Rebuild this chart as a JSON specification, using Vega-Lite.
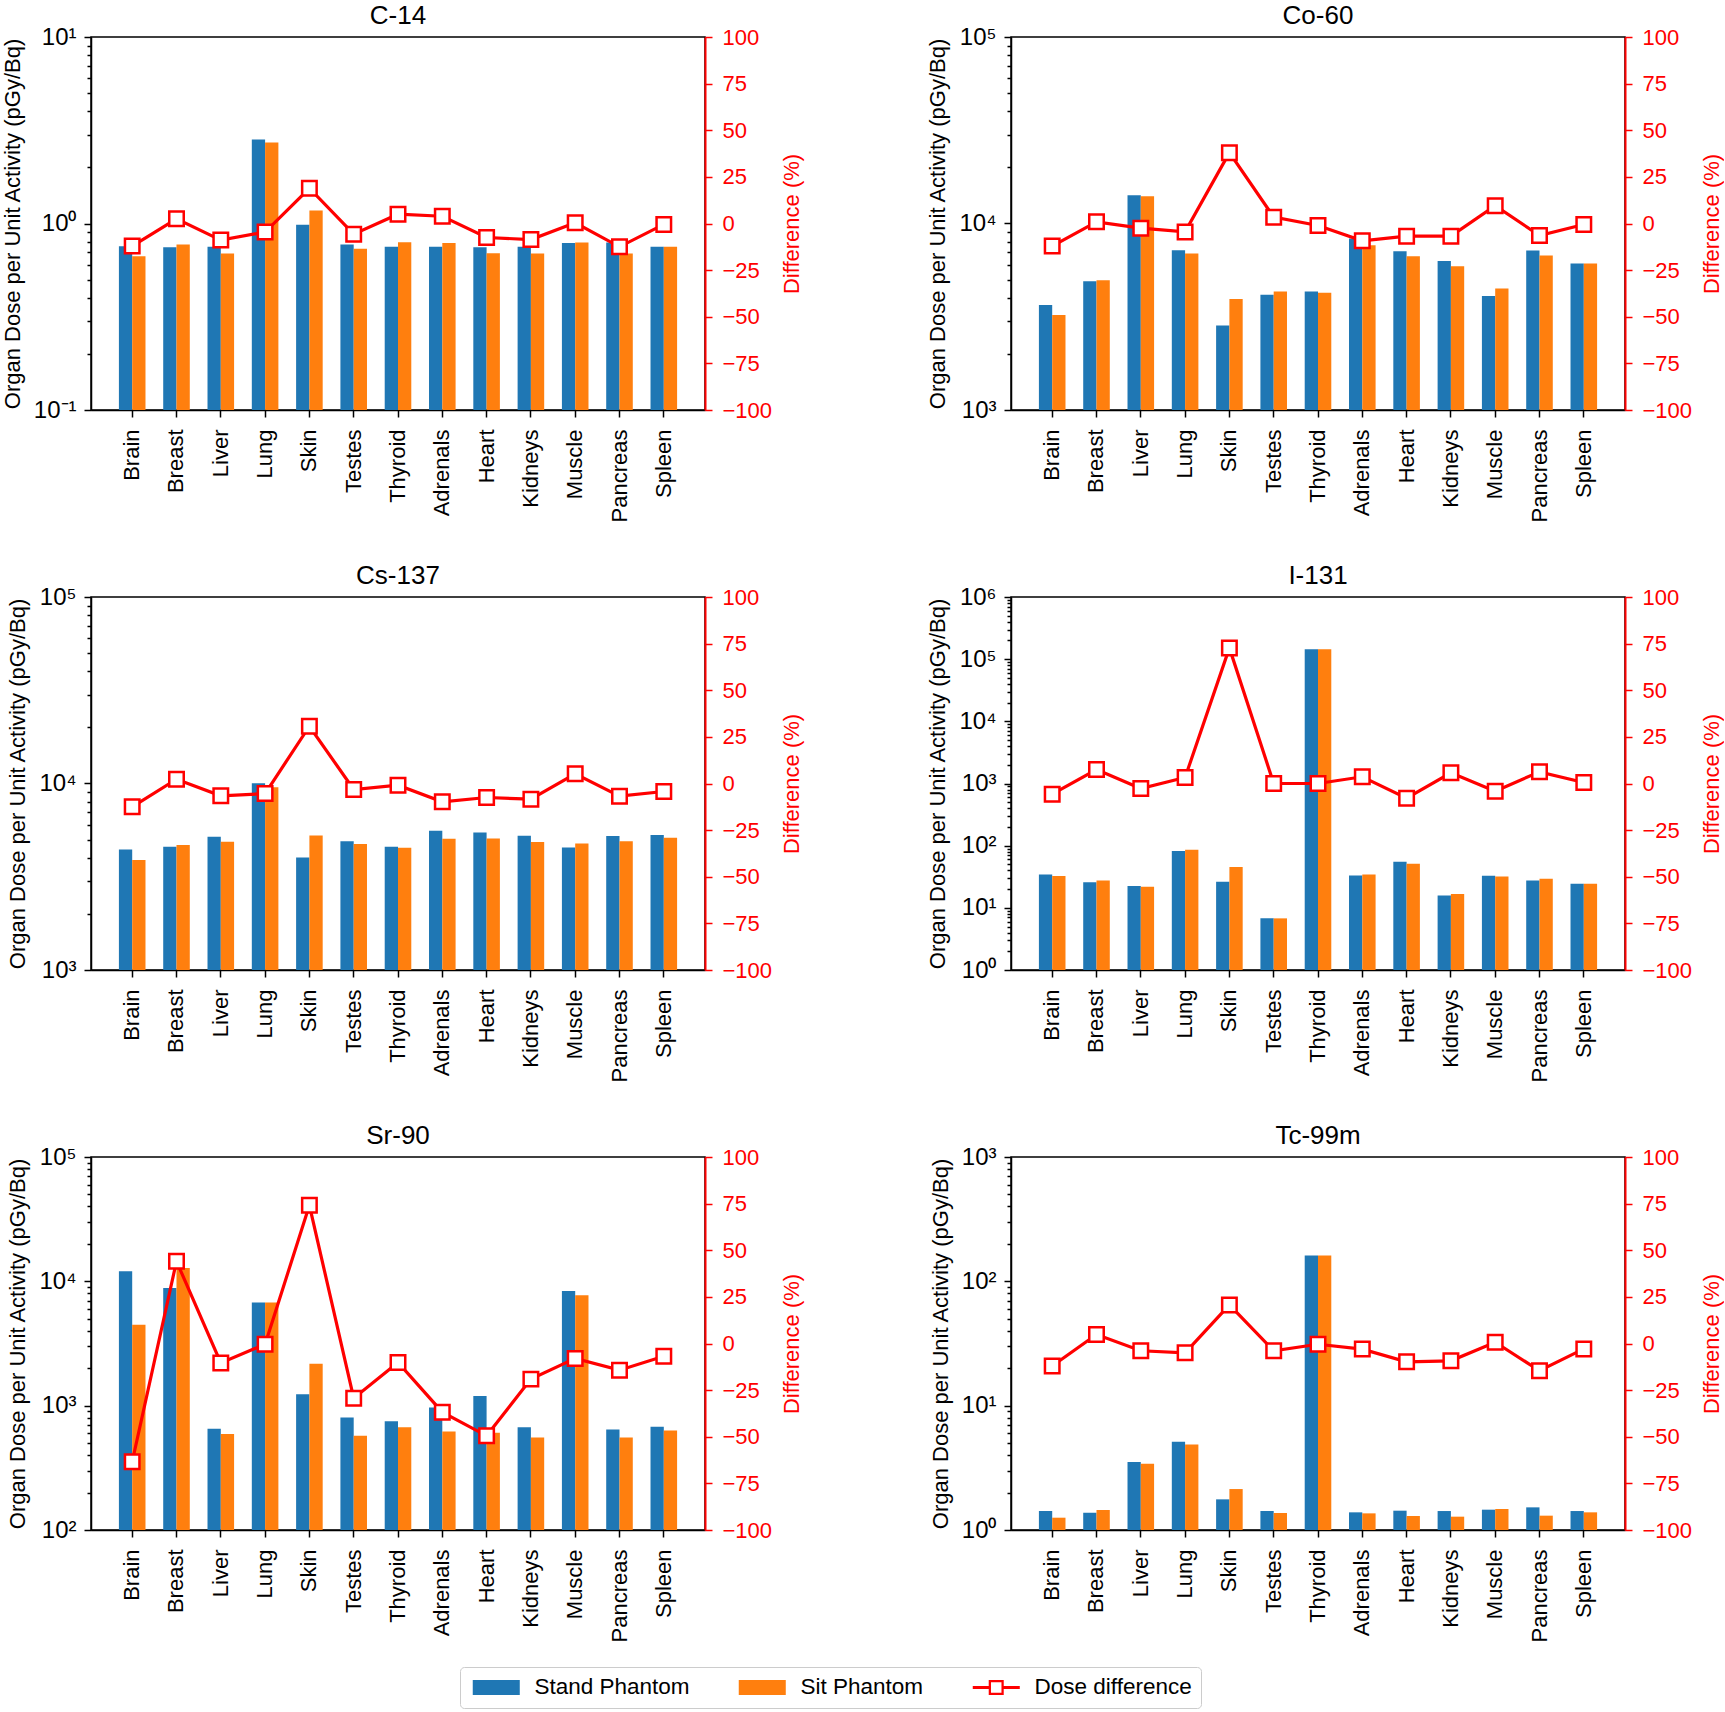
{
"$schema": "https://vega.github.io/schema/vega-lite/v6.json",
"padding": {"left": 0, "top": 2, "right": 0, "bottom": 0},
"datasets": {"d": [
{"i":"C-14","o":"Brain","s":"Stand Phantom","v":0.756},{"i":"C-14","o":"Brain","s":"Sit Phantom","v":0.668},{"i":"C-14","o":"Brain","s":"Dose difference","v":-12.1},
{"i":"C-14","o":"Breast","s":"Stand Phantom","v":0.747},{"i":"C-14","o":"Breast","s":"Sit Phantom","v":0.772},{"i":"C-14","o":"Breast","s":"Dose difference","v":2.5},
{"i":"C-14","o":"Liver","s":"Stand Phantom","v":0.750},{"i":"C-14","o":"Liver","s":"Sit Phantom","v":0.690},{"i":"C-14","o":"Liver","s":"Dose difference","v":-8.9},
{"i":"C-14","o":"Lung","s":"Stand Phantom","v":2.82},{"i":"C-14","o":"Lung","s":"Sit Phantom","v":2.72},{"i":"C-14","o":"Lung","s":"Dose difference","v":-4.6},
{"i":"C-14","o":"Skin","s":"Stand Phantom","v":0.984},{"i":"C-14","o":"Skin","s":"Sit Phantom","v":1.174},{"i":"C-14","o":"Skin","s":"Dose difference","v":18.9},
{"i":"C-14","o":"Testes","s":"Stand Phantom","v":0.772},{"i":"C-14","o":"Testes","s":"Sit Phantom","v":0.732},{"i":"C-14","o":"Testes","s":"Dose difference","v":-5.7},
{"i":"C-14","o":"Thyroid","s":"Stand Phantom","v":0.750},{"i":"C-14","o":"Thyroid","s":"Sit Phantom","v":0.794},{"i":"C-14","o":"Thyroid","s":"Dose difference","v":5.0},
{"i":"C-14","o":"Adrenals","s":"Stand Phantom","v":0.750},{"i":"C-14","o":"Adrenals","s":"Sit Phantom","v":0.787},{"i":"C-14","o":"Adrenals","s":"Dose difference","v":3.9},
{"i":"C-14","o":"Heart","s":"Stand Phantom","v":0.747},{"i":"C-14","o":"Heart","s":"Sit Phantom","v":0.693},{"i":"C-14","o":"Heart","s":"Dose difference","v":-7.5},
{"i":"C-14","o":"Kidneys","s":"Stand Phantom","v":0.750},{"i":"C-14","o":"Kidneys","s":"Sit Phantom","v":0.690},{"i":"C-14","o":"Kidneys","s":"Dose difference","v":-8.6},
{"i":"C-14","o":"Muscle","s":"Stand Phantom","v":0.785},{"i":"C-14","o":"Muscle","s":"Sit Phantom","v":0.791},{"i":"C-14","o":"Muscle","s":"Dose difference","v":0.4},
{"i":"C-14","o":"Pancreas","s":"Stand Phantom","v":0.791},{"i":"C-14","o":"Pancreas","s":"Sit Phantom","v":0.690},{"i":"C-14","o":"Pancreas","s":"Dose difference","v":-12.5},
{"i":"C-14","o":"Spleen","s":"Stand Phantom","v":0.750},{"i":"C-14","o":"Spleen","s":"Sit Phantom","v":0.750},{"i":"C-14","o":"Spleen","s":"Dose difference","v":-0.5},
{"i":"Co-60","o":"Brain","s":"Stand Phantom","v":3651},{"i":"Co-60","o":"Brain","s":"Sit Phantom","v":3228},{"i":"Co-60","o":"Brain","s":"Dose difference","v":-12.1},
{"i":"Co-60","o":"Breast","s":"Stand Phantom","v":4909},{"i":"Co-60","o":"Breast","s":"Sit Phantom","v":4970},{"i":"Co-60","o":"Breast","s":"Dose difference","v":0.9},
{"i":"Co-60","o":"Liver","s":"Stand Phantom","v":14190},{"i":"Co-60","o":"Liver","s":"Sit Phantom","v":14000},{"i":"Co-60","o":"Liver","s":"Dose difference","v":-2.5},
{"i":"Co-60","o":"Lung","s":"Stand Phantom","v":7197},{"i":"Co-60","o":"Lung","s":"Sit Phantom","v":6905},{"i":"Co-60","o":"Lung","s":"Dose difference","v":-4.5},
{"i":"Co-60","o":"Skin","s":"Stand Phantom","v":2841},{"i":"Co-60","o":"Skin","s":"Sit Phantom","v":3932},{"i":"Co-60","o":"Skin","s":"Dose difference","v":38.0},
{"i":"Co-60","o":"Testes","s":"Stand Phantom","v":4148},{"i":"Co-60","o":"Testes","s":"Sit Phantom","v":4322},{"i":"Co-60","o":"Testes","s":"Dose difference","v":3.4},
{"i":"Co-60","o":"Thyroid","s":"Stand Phantom","v":4322},{"i":"Co-60","o":"Thyroid","s":"Sit Phantom","v":4252},{"i":"Co-60","o":"Thyroid","s":"Dose difference","v":-1.1},
{"i":"Co-60","o":"Adrenals","s":"Stand Phantom","v":8313},{"i":"Co-60","o":"Adrenals","s":"Sit Phantom","v":7655},{"i":"Co-60","o":"Adrenals","s":"Dose difference","v":-9.3},
{"i":"Co-60","o":"Heart","s":"Stand Phantom","v":7108},{"i":"Co-60","o":"Heart","s":"Sit Phantom","v":6683},{"i":"Co-60","o":"Heart","s":"Dose difference","v":-6.8},
{"i":"Co-60","o":"Kidneys","s":"Stand Phantom","v":6286},{"i":"Co-60","o":"Kidneys","s":"Sit Phantom","v":5908},{"i":"Co-60","o":"Kidneys","s":"Dose difference","v":-6.8},
{"i":"Co-60","o":"Muscle","s":"Stand Phantom","v":4080},{"i":"Co-60","o":"Muscle","s":"Sit Phantom","v":4485},{"i":"Co-60","o":"Muscle","s":"Dose difference","v":9.5},
{"i":"Co-60","o":"Pancreas","s":"Stand Phantom","v":7165},{"i":"Co-60","o":"Pancreas","s":"Sit Phantom","v":6740},{"i":"Co-60","o":"Pancreas","s":"Dose difference","v":-6.4},
{"i":"Co-60","o":"Spleen","s":"Stand Phantom","v":6105},{"i":"Co-60","o":"Spleen","s":"Sit Phantom","v":6105},{"i":"Co-60","o":"Spleen","s":"Dose difference","v":-0.5},
{"i":"Cs-137","o":"Brain","s":"Stand Phantom","v":4430},{"i":"Cs-137","o":"Brain","s":"Sit Phantom","v":3884},{"i":"Cs-137","o":"Brain","s":"Dose difference","v":-12.5},
{"i":"Cs-137","o":"Breast","s":"Stand Phantom","v":4579},{"i":"Cs-137","o":"Breast","s":"Sit Phantom","v":4673},{"i":"Cs-137","o":"Breast","s":"Dose difference","v":2.3},
{"i":"Cs-137","o":"Liver","s":"Stand Phantom","v":5179},{"i":"Cs-137","o":"Liver","s":"Sit Phantom","v":4870},{"i":"Cs-137","o":"Liver","s":"Dose difference","v":-6.6},
{"i":"Cs-137","o":"Lung","s":"Stand Phantom","v":10040},{"i":"Cs-137","o":"Lung","s":"Sit Phantom","v":9556},{"i":"Cs-137","o":"Lung","s":"Dose difference","v":-5.4},
{"i":"Cs-137","o":"Skin","s":"Stand Phantom","v":4014},{"i":"Cs-137","o":"Skin","s":"Sit Phantom","v":5264},{"i":"Cs-137","o":"Skin","s":"Dose difference","v":30.7},
{"i":"Cs-137","o":"Testes","s":"Stand Phantom","v":4909},{"i":"Cs-137","o":"Testes","s":"Sit Phantom","v":4731},{"i":"Cs-137","o":"Testes","s":"Dose difference","v":-3.2},
{"i":"Cs-137","o":"Thyroid","s":"Stand Phantom","v":4579},{"i":"Cs-137","o":"Thyroid","s":"Sit Phantom","v":4523},{"i":"Cs-137","o":"Thyroid","s":"Dose difference","v":-0.9},
{"i":"Cs-137","o":"Adrenals","s":"Stand Phantom","v":5575},{"i":"Cs-137","o":"Adrenals","s":"Sit Phantom","v":5052},{"i":"Cs-137","o":"Adrenals","s":"Dose difference","v":-9.8},
{"i":"Cs-137","o":"Heart","s":"Stand Phantom","v":5465},{"i":"Cs-137","o":"Heart","s":"Sit Phantom","v":5073},{"i":"Cs-137","o":"Heart","s":"Dose difference","v":-7.5},
{"i":"Cs-137","o":"Kidneys","s":"Stand Phantom","v":5245},{"i":"Cs-137","o":"Kidneys","s":"Sit Phantom","v":4850},{"i":"Cs-137","o":"Kidneys","s":"Dose difference","v":-8.4},
{"i":"Cs-137","o":"Muscle","s":"Stand Phantom","v":4540},{"i":"Cs-137","o":"Muscle","s":"Sit Phantom","v":4770},{"i":"Cs-137","o":"Muscle","s":"Dose difference","v":5.2},
{"i":"Cs-137","o":"Pancreas","s":"Stand Phantom","v":5224},{"i":"Cs-137","o":"Pancreas","s":"Sit Phantom","v":4909},{"i":"Cs-137","o":"Pancreas","s":"Dose difference","v":-6.8},
{"i":"Cs-137","o":"Spleen","s":"Stand Phantom","v":5287},{"i":"Cs-137","o":"Spleen","s":"Sit Phantom","v":5115},{"i":"Cs-137","o":"Spleen","s":"Dose difference","v":-4.3},
{"i":"I-131","o":"Brain","s":"Stand Phantom","v":34.5},{"i":"I-131","o":"Brain","s":"Sit Phantom","v":32.4},{"i":"I-131","o":"Brain","s":"Dose difference","v":-5.7},
{"i":"I-131","o":"Breast","s":"Stand Phantom","v":25.9},{"i":"I-131","o":"Breast","s":"Sit Phantom","v":27.6},{"i":"I-131","o":"Breast","s":"Dose difference","v":7.5},
{"i":"I-131","o":"Liver","s":"Stand Phantom","v":22.4},{"i":"I-131","o":"Liver","s":"Sit Phantom","v":21.8},{"i":"I-131","o":"Liver","s":"Dose difference","v":-2.7},
{"i":"I-131","o":"Lung","s":"Stand Phantom","v":81.7},{"i":"I-131","o":"Lung","s":"Sit Phantom","v":85.9},{"i":"I-131","o":"Lung","s":"Dose difference","v":3.2},
{"i":"I-131","o":"Skin","s":"Stand Phantom","v":26.3},{"i":"I-131","o":"Skin","s":"Sit Phantom","v":45.2},{"i":"I-131","o":"Skin","s":"Dose difference","v":72.7},
{"i":"I-131","o":"Testes","s":"Stand Phantom","v":6.77},{"i":"I-131","o":"Testes","s":"Sit Phantom","v":6.77},{"i":"I-131","o":"Testes","s":"Dose difference","v":0.0},
{"i":"I-131","o":"Thyroid","s":"Stand Phantom","v":144200},{"i":"I-131","o":"Thyroid","s":"Sit Phantom","v":144200},{"i":"I-131","o":"Thyroid","s":"Dose difference","v":0.0},
{"i":"I-131","o":"Adrenals","s":"Stand Phantom","v":33.2},{"i":"I-131","o":"Adrenals","s":"Sit Phantom","v":34.5},{"i":"I-131","o":"Adrenals","s":"Dose difference","v":3.6},
{"i":"I-131","o":"Heart","s":"Stand Phantom","v":55.1},{"i":"I-131","o":"Heart","s":"Sit Phantom","v":51.2},{"i":"I-131","o":"Heart","s":"Dose difference","v":-7.9},
{"i":"I-131","o":"Kidneys","s":"Stand Phantom","v":15.85},{"i":"I-131","o":"Kidneys","s":"Sit Phantom","v":16.65},{"i":"I-131","o":"Kidneys","s":"Dose difference","v":5.7},
{"i":"I-131","o":"Muscle","s":"Stand Phantom","v":32.8},{"i":"I-131","o":"Muscle","s":"Sit Phantom","v":32.0},{"i":"I-131","o":"Muscle","s":"Dose difference","v":-4.1},
{"i":"I-131","o":"Pancreas","s":"Stand Phantom","v":27.6},{"i":"I-131","o":"Pancreas","s":"Sit Phantom","v":29.4},{"i":"I-131","o":"Pancreas","s":"Dose difference","v":6.25},
{"i":"I-131","o":"Spleen","s":"Stand Phantom","v":24.4},{"i":"I-131","o":"Spleen","s":"Sit Phantom","v":24.4},{"i":"I-131","o":"Spleen","s":"Dose difference","v":0.5},
{"i":"Sr-90","o":"Brain","s":"Stand Phantom","v":12060},{"i":"Sr-90","o":"Brain","s":"Sit Phantom","v":4467},{"i":"Sr-90","o":"Brain","s":"Dose difference","v":-63.4},
{"i":"Sr-90","o":"Breast","s":"Stand Phantom","v":8857},{"i":"Sr-90","o":"Breast","s":"Sit Phantom","v":12830},{"i":"Sr-90","o":"Breast","s":"Dose difference","v":44.1},
{"i":"Sr-90","o":"Liver","s":"Stand Phantom","v":652},{"i":"Sr-90","o":"Liver","s":"Sit Phantom","v":591},{"i":"Sr-90","o":"Liver","s":"Dose difference","v":-10.4},
{"i":"Sr-90","o":"Lung","s":"Stand Phantom","v":6753},{"i":"Sr-90","o":"Lung","s":"Sit Phantom","v":6753},{"i":"Sr-90","o":"Lung","s":"Dose difference","v":-0.4},
{"i":"Sr-90","o":"Skin","s":"Stand Phantom","v":1238},{"i":"Sr-90","o":"Skin","s":"Sit Phantom","v":2171},{"i":"Sr-90","o":"Skin","s":"Dose difference","v":74.1},
{"i":"Sr-90","o":"Testes","s":"Stand Phantom","v":804},{"i":"Sr-90","o":"Testes","s":"Sit Phantom","v":573},{"i":"Sr-90","o":"Testes","s":"Dose difference","v":-29.3},
{"i":"Sr-90","o":"Thyroid","s":"Stand Phantom","v":751},{"i":"Sr-90","o":"Thyroid","s":"Sit Phantom","v":672},{"i":"Sr-90","o":"Thyroid","s":"Dose difference","v":-10.2},
{"i":"Sr-90","o":"Adrenals","s":"Stand Phantom","v":967},{"i":"Sr-90","o":"Adrenals","s":"Sit Phantom","v":621},{"i":"Sr-90","o":"Adrenals","s":"Dose difference","v":-36.8},
{"i":"Sr-90","o":"Heart","s":"Stand Phantom","v":1194},{"i":"Sr-90","o":"Heart","s":"Sit Phantom","v":606},{"i":"Sr-90","o":"Heart","s":"Dose difference","v":-49.5},
{"i":"Sr-90","o":"Kidneys","s":"Stand Phantom","v":672},{"i":"Sr-90","o":"Kidneys","s":"Sit Phantom","v":555},{"i":"Sr-90","o":"Kidneys","s":"Dose difference","v":-19.1},
{"i":"Sr-90","o":"Muscle","s":"Stand Phantom","v":8378},{"i":"Sr-90","o":"Muscle","s":"Sit Phantom","v":7730},{"i":"Sr-90","o":"Muscle","s":"Dose difference","v":-8.0},
{"i":"Sr-90","o":"Pancreas","s":"Stand Phantom","v":644},{"i":"Sr-90","o":"Pancreas","s":"Sit Phantom","v":555},{"i":"Sr-90","o":"Pancreas","s":"Dose difference","v":-14.3},
{"i":"Sr-90","o":"Spleen","s":"Stand Phantom","v":677},{"i":"Sr-90","o":"Spleen","s":"Sit Phantom","v":632},{"i":"Sr-90","o":"Spleen","s":"Dose difference","v":-6.8},
{"i":"Tc-99m","o":"Brain","s":"Stand Phantom","v":1.421},{"i":"Tc-99m","o":"Brain","s":"Sit Phantom","v":1.256},{"i":"Tc-99m","o":"Brain","s":"Dose difference","v":-12.1},
{"i":"Tc-99m","o":"Breast","s":"Stand Phantom","v":1.378},{"i":"Tc-99m","o":"Breast","s":"Sit Phantom","v":1.448},{"i":"Tc-99m","o":"Breast","s":"Dose difference","v":4.8},
{"i":"Tc-99m","o":"Liver","s":"Stand Phantom","v":3.52},{"i":"Tc-99m","o":"Liver","s":"Sit Phantom","v":3.41},{"i":"Tc-99m","o":"Liver","s":"Dose difference","v":-3.9},
{"i":"Tc-99m","o":"Lung","s":"Stand Phantom","v":5.13},{"i":"Tc-99m","o":"Lung","s":"Sit Phantom","v":4.88},{"i":"Tc-99m","o":"Lung","s":"Dose difference","v":-5.0},
{"i":"Tc-99m","o":"Skin","s":"Stand Phantom","v":1.764},{"i":"Tc-99m","o":"Skin","s":"Sit Phantom","v":2.135},{"i":"Tc-99m","o":"Skin","s":"Dose difference","v":20.7},
{"i":"Tc-99m","o":"Testes","s":"Stand Phantom","v":1.421},{"i":"Tc-99m","o":"Testes","s":"Sit Phantom","v":1.370},{"i":"Tc-99m","o":"Testes","s":"Dose difference","v":-3.9},
{"i":"Tc-99m","o":"Thyroid","s":"Stand Phantom","v":161.1},{"i":"Tc-99m","o":"Thyroid","s":"Sit Phantom","v":161.1},{"i":"Tc-99m","o":"Thyroid","s":"Dose difference","v":-0.4},
{"i":"Tc-99m","o":"Adrenals","s":"Stand Phantom","v":1.387},{"i":"Tc-99m","o":"Adrenals","s":"Sit Phantom","v":1.361},{"i":"Tc-99m","o":"Adrenals","s":"Dose difference","v":-3.0},
{"i":"Tc-99m","o":"Heart","s":"Stand Phantom","v":1.43},{"i":"Tc-99m","o":"Heart","s":"Sit Phantom","v":1.296},{"i":"Tc-99m","o":"Heart","s":"Dose difference","v":-9.8},
{"i":"Tc-99m","o":"Kidneys","s":"Stand Phantom","v":1.421},{"i":"Tc-99m","o":"Kidneys","s":"Sit Phantom","v":1.280},{"i":"Tc-99m","o":"Kidneys","s":"Dose difference","v":-9.3},
{"i":"Tc-99m","o":"Muscle","s":"Stand Phantom","v":1.457},{"i":"Tc-99m","o":"Muscle","s":"Sit Phantom","v":1.475},{"i":"Tc-99m","o":"Muscle","s":"Dose difference","v":0.7},
{"i":"Tc-99m","o":"Pancreas","s":"Stand Phantom","v":1.521},{"i":"Tc-99m","o":"Pancreas","s":"Sit Phantom","v":1.304},{"i":"Tc-99m","o":"Pancreas","s":"Dose difference","v":-14.6},
{"i":"Tc-99m","o":"Spleen","s":"Stand Phantom","v":1.421},{"i":"Tc-99m","o":"Spleen","s":"Sit Phantom","v":1.387},{"i":"Tc-99m","o":"Spleen","s":"Dose difference","v":-2.9}
]},
"data": {"name": "d"},
"columns": 2,
"spacing": {"row": 39, "column": 122},
"resolve": {"scale": {"color": "shared"}, "legend": {"color": "shared"}},
"concat": [
{"width": 614, "height": 373, "title": "C-14",
 "transform": [{"filter": "datum.i == 'C-14'"}],
 "encoding": {"x": {"field": "o", "type": "nominal", "scale": {"domain": ["Brain","Breast","Liver","Lung","Skin","Testes","Thyroid","Adrenals","Heart","Kidneys","Muscle","Pancreas","Spleen"], "paddingInner": 0.4, "paddingOuter": 0.63}, "axis": {"title": null, "labelAngle": -90, "tickSize": 7, "labelPadding": 12}}},
 "layer": [
  {"transform": [{"filter": "datum.s != 'Dose difference'"}], "mark": {"type": "bar", "clip": true},
   "encoding": {"xOffset": {"field": "s", "type": "nominal", "scale": {"domain": ["Stand Phantom","Sit Phantom"]}},
    "y": {"field": "v", "type": "quantitative", "stack": null, "scale": {"type": "log", "domain": [0.1, 10], "nice": false},
     "axis": {"orient": "left", "title": "Organ Dose per Unit Activity (pGy/Bq)", "values": [0.1,0.2,0.3,0.4,0.5,0.6,0.7,0.8,0.9,1,2,3,4,5,6,7,8,9,10], "labelOverlap": false, "labelFontSize": 24, "labelPadding": 8, "titlePadding": 9,
      "labelExpr": "abs(log(datum.value)/LN10-round(log(datum.value)/LN10))<0.001 ? '10'+(round(log(datum.value)/LN10)<0?'⁻':'')+['⁰','¹','²','³','⁴','⁵','⁶'][abs(round(log(datum.value)/LN10))] : ''",
      "tickSize": {"condition": {"test": "abs(log(datum.value)/LN10-round(log(datum.value)/LN10))<0.001", "value": 7}, "value": 4}}},
    "color": {"field": "s", "type": "nominal", "scale": {"domain": ["Stand Phantom","Sit Phantom","Dose difference"], "range": ["#1f77b4","#ff7f0e","#ff0000"]},
     "legend": {"encode": {"symbols": {"update": {"shape": {"signal": "datum.value === 'Dose difference' ? 'M-1,-0.2H1.13V0.2H-1Z M3.13,-0.2H5.27V0.2H3.13Z M1.13,-1H3.13V1H1.13Z M1.43,-0.7V0.7H2.83V-0.7Z' : 'M-1,-1H5.27V1H-1Z'"}, "strokeWidth": {"value": 0}, "opacity": {"value": 1}}}}}}}},
  {"transform": [{"filter": "datum.s == 'Dose difference'"}],
   "encoding": {"y": {"field": "v", "type": "quantitative", "scale": {"domain": [-100, 100], "nice": false},
     "axis": {"orient": "right", "title": "Difference (%)", "values": [-100,-75,-50,-25,0,25,50,75,100], "labelColor": "#ff0000", "tickColor": "#ff0000", "domainColor": "#ff0000", "titleColor": "#ff0000", "titleAngle": 270, "titleBaseline": "top", "tickSize": 7, "labelPadding": 10, "domainWidth": 2}}},
   "layer": [
    {"mark": {"type": "line", "strokeWidth": 3.2}, "encoding": {"color": {"datum": "Dose difference", "type": "nominal", "scale": {"domain": ["Stand Phantom","Sit Phantom","Dose difference"], "range": ["#1f77b4","#ff7f0e","#ff0000"]}}}},
    {"mark": {"type": "point", "shape": "square", "filled": true, "fill": "#ffffff", "stroke": "#ff0000", "strokeWidth": 2.5, "size": 210, "opacity": 1}, "encoding": {}}
   ]}
 ],
 "resolve": {"scale": {"y": "independent"}}},
{"width": 614, "height": 373, "title": "Co-60",
 "transform": [{"filter": "datum.i == 'Co-60'"}],
 "encoding": {"x": {"field": "o", "type": "nominal", "scale": {"domain": ["Brain","Breast","Liver","Lung","Skin","Testes","Thyroid","Adrenals","Heart","Kidneys","Muscle","Pancreas","Spleen"], "paddingInner": 0.4, "paddingOuter": 0.63}, "axis": {"title": null, "labelAngle": -90, "tickSize": 7, "labelPadding": 12}}},
 "layer": [
  {"transform": [{"filter": "datum.s != 'Dose difference'"}], "mark": {"type": "bar", "clip": true},
   "encoding": {"xOffset": {"field": "s", "type": "nominal", "scale": {"domain": ["Stand Phantom","Sit Phantom"]}},
    "y": {"field": "v", "type": "quantitative", "stack": null, "scale": {"type": "log", "domain": [1000, 100000], "nice": false},
     "axis": {"orient": "left", "title": "Organ Dose per Unit Activity (pGy/Bq)", "values": [1000,2000,3000,4000,5000,6000,7000,8000,9000,10000,20000,30000,40000,50000,60000,70000,80000,90000,100000], "labelOverlap": false, "labelFontSize": 24, "labelPadding": 8, "titlePadding": 9,
      "labelExpr": "abs(log(datum.value)/LN10-round(log(datum.value)/LN10))<0.001 ? '10'+(round(log(datum.value)/LN10)<0?'⁻':'')+['⁰','¹','²','³','⁴','⁵','⁶'][abs(round(log(datum.value)/LN10))] : ''",
      "tickSize": {"condition": {"test": "abs(log(datum.value)/LN10-round(log(datum.value)/LN10))<0.001", "value": 7}, "value": 4}}},
    "color": {"field": "s", "type": "nominal", "scale": {"domain": ["Stand Phantom","Sit Phantom","Dose difference"], "range": ["#1f77b4","#ff7f0e","#ff0000"]}}}},
  {"transform": [{"filter": "datum.s == 'Dose difference'"}],
   "encoding": {"y": {"field": "v", "type": "quantitative", "scale": {"domain": [-100, 100], "nice": false},
     "axis": {"orient": "right", "title": "Difference (%)", "values": [-100,-75,-50,-25,0,25,50,75,100], "labelColor": "#ff0000", "tickColor": "#ff0000", "domainColor": "#ff0000", "titleColor": "#ff0000", "titleAngle": 270, "titleBaseline": "top", "tickSize": 7, "labelPadding": 10, "domainWidth": 2}}},
   "layer": [
    {"mark": {"type": "line", "strokeWidth": 3.2}, "encoding": {"color": {"datum": "Dose difference", "type": "nominal", "scale": {"domain": ["Stand Phantom","Sit Phantom","Dose difference"], "range": ["#1f77b4","#ff7f0e","#ff0000"]}}}},
    {"mark": {"type": "point", "shape": "square", "filled": true, "fill": "#ffffff", "stroke": "#ff0000", "strokeWidth": 2.5, "size": 210, "opacity": 1}, "encoding": {}}
   ]}
 ],
 "resolve": {"scale": {"y": "independent"}}},
{"width": 614, "height": 373, "title": "Cs-137",
 "transform": [{"filter": "datum.i == 'Cs-137'"}],
 "encoding": {"x": {"field": "o", "type": "nominal", "scale": {"domain": ["Brain","Breast","Liver","Lung","Skin","Testes","Thyroid","Adrenals","Heart","Kidneys","Muscle","Pancreas","Spleen"], "paddingInner": 0.4, "paddingOuter": 0.63}, "axis": {"title": null, "labelAngle": -90, "tickSize": 7, "labelPadding": 12}}},
 "layer": [
  {"transform": [{"filter": "datum.s != 'Dose difference'"}], "mark": {"type": "bar", "clip": true},
   "encoding": {"xOffset": {"field": "s", "type": "nominal", "scale": {"domain": ["Stand Phantom","Sit Phantom"]}},
    "y": {"field": "v", "type": "quantitative", "stack": null, "scale": {"type": "log", "domain": [1000, 100000], "nice": false},
     "axis": {"orient": "left", "title": "Organ Dose per Unit Activity (pGy/Bq)", "values": [1000,2000,3000,4000,5000,6000,7000,8000,9000,10000,20000,30000,40000,50000,60000,70000,80000,90000,100000], "labelOverlap": false, "labelFontSize": 24, "labelPadding": 8, "titlePadding": 9,
      "labelExpr": "abs(log(datum.value)/LN10-round(log(datum.value)/LN10))<0.001 ? '10'+(round(log(datum.value)/LN10)<0?'⁻':'')+['⁰','¹','²','³','⁴','⁵','⁶'][abs(round(log(datum.value)/LN10))] : ''",
      "tickSize": {"condition": {"test": "abs(log(datum.value)/LN10-round(log(datum.value)/LN10))<0.001", "value": 7}, "value": 4}}},
    "color": {"field": "s", "type": "nominal", "scale": {"domain": ["Stand Phantom","Sit Phantom","Dose difference"], "range": ["#1f77b4","#ff7f0e","#ff0000"]}}}},
  {"transform": [{"filter": "datum.s == 'Dose difference'"}],
   "encoding": {"y": {"field": "v", "type": "quantitative", "scale": {"domain": [-100, 100], "nice": false},
     "axis": {"orient": "right", "title": "Difference (%)", "values": [-100,-75,-50,-25,0,25,50,75,100], "labelColor": "#ff0000", "tickColor": "#ff0000", "domainColor": "#ff0000", "titleColor": "#ff0000", "titleAngle": 270, "titleBaseline": "top", "tickSize": 7, "labelPadding": 10, "domainWidth": 2}}},
   "layer": [
    {"mark": {"type": "line", "strokeWidth": 3.2}, "encoding": {"color": {"datum": "Dose difference", "type": "nominal", "scale": {"domain": ["Stand Phantom","Sit Phantom","Dose difference"], "range": ["#1f77b4","#ff7f0e","#ff0000"]}}}},
    {"mark": {"type": "point", "shape": "square", "filled": true, "fill": "#ffffff", "stroke": "#ff0000", "strokeWidth": 2.5, "size": 210, "opacity": 1}, "encoding": {}}
   ]}
 ],
 "resolve": {"scale": {"y": "independent"}}},
{"width": 614, "height": 373, "title": "I-131",
 "transform": [{"filter": "datum.i == 'I-131'"}],
 "encoding": {"x": {"field": "o", "type": "nominal", "scale": {"domain": ["Brain","Breast","Liver","Lung","Skin","Testes","Thyroid","Adrenals","Heart","Kidneys","Muscle","Pancreas","Spleen"], "paddingInner": 0.4, "paddingOuter": 0.63}, "axis": {"title": null, "labelAngle": -90, "tickSize": 7, "labelPadding": 12}}},
 "layer": [
  {"transform": [{"filter": "datum.s != 'Dose difference'"}], "mark": {"type": "bar", "clip": true},
   "encoding": {"xOffset": {"field": "s", "type": "nominal", "scale": {"domain": ["Stand Phantom","Sit Phantom"]}},
    "y": {"field": "v", "type": "quantitative", "stack": null, "scale": {"type": "log", "domain": [1, 1000000], "nice": false},
     "axis": {"orient": "left", "title": "Organ Dose per Unit Activity (pGy/Bq)", "values": [1,2,3,4,5,6,7,8,9,10,20,30,40,50,60,70,80,90,100,200,300,400,500,600,700,800,900,1000,2000,3000,4000,5000,6000,7000,8000,9000,10000,20000,30000,40000,50000,60000,70000,80000,90000,100000,200000,300000,400000,500000,600000,700000,800000,900000,1000000], "labelOverlap": false, "labelFontSize": 24, "labelPadding": 8, "titlePadding": 9,
      "labelExpr": "abs(log(datum.value)/LN10-round(log(datum.value)/LN10))<0.001 ? '10'+(round(log(datum.value)/LN10)<0?'⁻':'')+['⁰','¹','²','³','⁴','⁵','⁶'][abs(round(log(datum.value)/LN10))] : ''",
      "tickSize": {"condition": {"test": "abs(log(datum.value)/LN10-round(log(datum.value)/LN10))<0.001", "value": 7}, "value": 4}}},
    "color": {"field": "s", "type": "nominal", "scale": {"domain": ["Stand Phantom","Sit Phantom","Dose difference"], "range": ["#1f77b4","#ff7f0e","#ff0000"]}}}},
  {"transform": [{"filter": "datum.s == 'Dose difference'"}],
   "encoding": {"y": {"field": "v", "type": "quantitative", "scale": {"domain": [-100, 100], "nice": false},
     "axis": {"orient": "right", "title": "Difference (%)", "values": [-100,-75,-50,-25,0,25,50,75,100], "labelColor": "#ff0000", "tickColor": "#ff0000", "domainColor": "#ff0000", "titleColor": "#ff0000", "titleAngle": 270, "titleBaseline": "top", "tickSize": 7, "labelPadding": 10, "domainWidth": 2}}},
   "layer": [
    {"mark": {"type": "line", "strokeWidth": 3.2}, "encoding": {"color": {"datum": "Dose difference", "type": "nominal", "scale": {"domain": ["Stand Phantom","Sit Phantom","Dose difference"], "range": ["#1f77b4","#ff7f0e","#ff0000"]}}}},
    {"mark": {"type": "point", "shape": "square", "filled": true, "fill": "#ffffff", "stroke": "#ff0000", "strokeWidth": 2.5, "size": 210, "opacity": 1}, "encoding": {}}
   ]}
 ],
 "resolve": {"scale": {"y": "independent"}}},
{"width": 614, "height": 373, "title": "Sr-90",
 "transform": [{"filter": "datum.i == 'Sr-90'"}],
 "encoding": {"x": {"field": "o", "type": "nominal", "scale": {"domain": ["Brain","Breast","Liver","Lung","Skin","Testes","Thyroid","Adrenals","Heart","Kidneys","Muscle","Pancreas","Spleen"], "paddingInner": 0.4, "paddingOuter": 0.63}, "axis": {"title": null, "labelAngle": -90, "tickSize": 7, "labelPadding": 12}}},
 "layer": [
  {"transform": [{"filter": "datum.s != 'Dose difference'"}], "mark": {"type": "bar", "clip": true},
   "encoding": {"xOffset": {"field": "s", "type": "nominal", "scale": {"domain": ["Stand Phantom","Sit Phantom"]}},
    "y": {"field": "v", "type": "quantitative", "stack": null, "scale": {"type": "log", "domain": [100, 100000], "nice": false},
     "axis": {"orient": "left", "title": "Organ Dose per Unit Activity (pGy/Bq)", "values": [100,200,300,400,500,600,700,800,900,1000,2000,3000,4000,5000,6000,7000,8000,9000,10000,20000,30000,40000,50000,60000,70000,80000,90000,100000], "labelOverlap": false, "labelFontSize": 24, "labelPadding": 8, "titlePadding": 9,
      "labelExpr": "abs(log(datum.value)/LN10-round(log(datum.value)/LN10))<0.001 ? '10'+(round(log(datum.value)/LN10)<0?'⁻':'')+['⁰','¹','²','³','⁴','⁵','⁶'][abs(round(log(datum.value)/LN10))] : ''",
      "tickSize": {"condition": {"test": "abs(log(datum.value)/LN10-round(log(datum.value)/LN10))<0.001", "value": 7}, "value": 4}}},
    "color": {"field": "s", "type": "nominal", "scale": {"domain": ["Stand Phantom","Sit Phantom","Dose difference"], "range": ["#1f77b4","#ff7f0e","#ff0000"]}}}},
  {"transform": [{"filter": "datum.s == 'Dose difference'"}],
   "encoding": {"y": {"field": "v", "type": "quantitative", "scale": {"domain": [-100, 100], "nice": false},
     "axis": {"orient": "right", "title": "Difference (%)", "values": [-100,-75,-50,-25,0,25,50,75,100], "labelColor": "#ff0000", "tickColor": "#ff0000", "domainColor": "#ff0000", "titleColor": "#ff0000", "titleAngle": 270, "titleBaseline": "top", "tickSize": 7, "labelPadding": 10, "domainWidth": 2}}},
   "layer": [
    {"mark": {"type": "line", "strokeWidth": 3.2}, "encoding": {"color": {"datum": "Dose difference", "type": "nominal", "scale": {"domain": ["Stand Phantom","Sit Phantom","Dose difference"], "range": ["#1f77b4","#ff7f0e","#ff0000"]}}}},
    {"mark": {"type": "point", "shape": "square", "filled": true, "fill": "#ffffff", "stroke": "#ff0000", "strokeWidth": 2.5, "size": 210, "opacity": 1}, "encoding": {}}
   ]}
 ],
 "resolve": {"scale": {"y": "independent"}}},
{"width": 614, "height": 373, "title": "Tc-99m",
 "transform": [{"filter": "datum.i == 'Tc-99m'"}],
 "encoding": {"x": {"field": "o", "type": "nominal", "scale": {"domain": ["Brain","Breast","Liver","Lung","Skin","Testes","Thyroid","Adrenals","Heart","Kidneys","Muscle","Pancreas","Spleen"], "paddingInner": 0.4, "paddingOuter": 0.63}, "axis": {"title": null, "labelAngle": -90, "tickSize": 7, "labelPadding": 12}}},
 "layer": [
  {"transform": [{"filter": "datum.s != 'Dose difference'"}], "mark": {"type": "bar", "clip": true},
   "encoding": {"xOffset": {"field": "s", "type": "nominal", "scale": {"domain": ["Stand Phantom","Sit Phantom"]}},
    "y": {"field": "v", "type": "quantitative", "stack": null, "scale": {"type": "log", "domain": [1, 1000], "nice": false},
     "axis": {"orient": "left", "title": "Organ Dose per Unit Activity (pGy/Bq)", "values": [1,2,3,4,5,6,7,8,9,10,20,30,40,50,60,70,80,90,100,200,300,400,500,600,700,800,900,1000], "labelOverlap": false, "labelFontSize": 24, "labelPadding": 8, "titlePadding": 9,
      "labelExpr": "abs(log(datum.value)/LN10-round(log(datum.value)/LN10))<0.001 ? '10'+(round(log(datum.value)/LN10)<0?'⁻':'')+['⁰','¹','²','³','⁴','⁵','⁶'][abs(round(log(datum.value)/LN10))] : ''",
      "tickSize": {"condition": {"test": "abs(log(datum.value)/LN10-round(log(datum.value)/LN10))<0.001", "value": 7}, "value": 4}}},
    "color": {"field": "s", "type": "nominal", "scale": {"domain": ["Stand Phantom","Sit Phantom","Dose difference"], "range": ["#1f77b4","#ff7f0e","#ff0000"]}}}},
  {"transform": [{"filter": "datum.s == 'Dose difference'"}],
   "encoding": {"y": {"field": "v", "type": "quantitative", "scale": {"domain": [-100, 100], "nice": false},
     "axis": {"orient": "right", "title": "Difference (%)", "values": [-100,-75,-50,-25,0,25,50,75,100], "labelColor": "#ff0000", "tickColor": "#ff0000", "domainColor": "#ff0000", "titleColor": "#ff0000", "titleAngle": 270, "titleBaseline": "top", "tickSize": 7, "labelPadding": 10, "domainWidth": 2}}},
   "layer": [
    {"mark": {"type": "line", "strokeWidth": 3.2}, "encoding": {"color": {"datum": "Dose difference", "type": "nominal", "scale": {"domain": ["Stand Phantom","Sit Phantom","Dose difference"], "range": ["#1f77b4","#ff7f0e","#ff0000"]}}}},
    {"mark": {"type": "point", "shape": "square", "filled": true, "fill": "#ffffff", "stroke": "#ff0000", "strokeWidth": 2.5, "size": 210, "opacity": 1}, "encoding": {}}
   ]}
 ],
 "resolve": {"scale": {"y": "independent"}}}
],
"config": {
 "font": "Liberation Sans",
 "view": {"stroke": "#000000", "strokeWidth": 1.5},
 "title": {"fontSize": 26, "fontWeight": "normal", "color": "#000000", "offset": -4, "anchor": "middle"},
 "axis": {"labelFontSize": 22, "titleFontSize": 22, "titleFontWeight": "normal", "labelColor": "#000000", "titleColor": "#000000", "tickColor": "#000000", "domainColor": "#000000", "domainWidth": 1.5, "tickWidth": 1.5, "grid": false, "titlePadding": 10},
 "legend": {"orient": "none", "legendX": 369, "legendY": 1630, "direction": "horizontal", "columns": 3, "title": null, "labelFontSize": 22.5, "labelColor": "#000000", "labelLimit": 400, "symbolSize": 225, "symbolType": "M-1,-1H5.27V1H-1Z", "symbolStrokeWidth": 0, "labelOffset": 43, "columnPadding": 45, "padding": 9, "strokeColor": "#cccccc", "fillColor": "#ffffff", "cornerRadius": 4}
}
}
